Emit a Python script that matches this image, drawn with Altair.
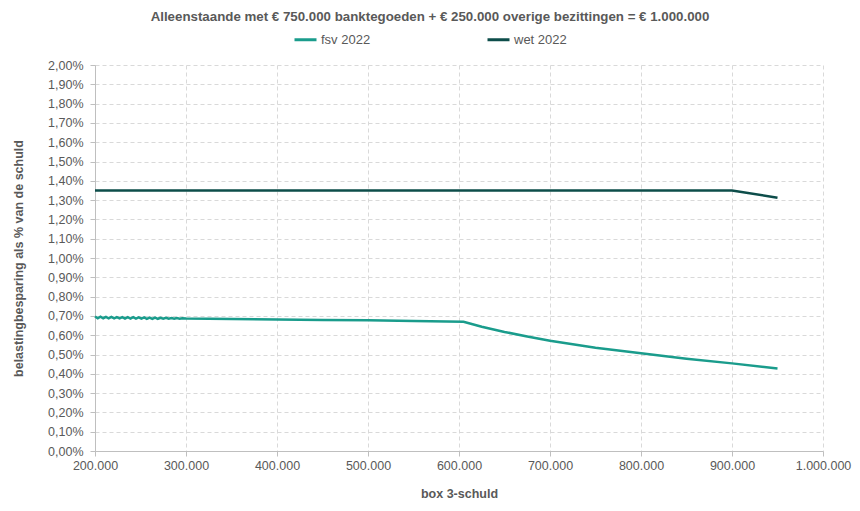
import altair as alt
import pandas as pd

# ---- data (values in percent) ----
fsv_x = [200000, 203000, 206000, 209000, 212000, 215000, 218000, 221000, 224000, 227000,
         230000, 233000, 236000, 239000, 242000, 245000, 248000, 251000, 254000, 257000,
         260000, 263000, 266000, 269000, 272000, 275000, 278000, 281000, 284000, 287000,
         290000, 293000, 296000, 300000, 350000, 400000, 450000, 500000, 550000, 605000,
         625000, 650000, 675000, 700000, 750000, 800000, 850000, 900000, 950000]
fsv_y = [0.697, 0.688, 0.696, 0.688, 0.695, 0.687, 0.695, 0.687, 0.694, 0.687,
         0.694, 0.686, 0.693, 0.686, 0.693, 0.686, 0.692, 0.686, 0.692, 0.685,
         0.691, 0.685, 0.691, 0.685, 0.690, 0.685, 0.690, 0.685, 0.689, 0.685,
         0.689, 0.685, 0.688, 0.686, 0.684, 0.681, 0.679, 0.677, 0.674, 0.670,
         0.644, 0.617, 0.593, 0.571, 0.535, 0.506, 0.478, 0.454, 0.428]

wet_x = [200000, 300000, 400000, 500000, 600000, 700000, 800000, 900000, 950000]
wet_y = [1.350, 1.350, 1.350, 1.350, 1.350, 1.350, 1.350, 1.350, 1.312]

series_names = ["fsv 2022", "wet 2022"]
series_colors = ["#1a9c8c", "#0d4d4a"]

x_ticks = [200000, 300000, 400000, 500000, 600000, 700000, 800000, 900000, 1000000]
y_ticks = [0.0, 0.1, 0.2, 0.3, 0.4, 0.5, 0.6, 0.7, 0.8, 0.9, 1.0,
           1.1, 1.2, 1.3, 1.4, 1.5, 1.6, 1.7, 1.8, 1.9, 2.0]

title_text = "Alleenstaande met € 750.000 banktegoeden + € 250.000 overige bezittingen = € 1.000.000"
x_title = "box 3-schuld"
y_title = "belastingbesparing als % van de schuld"

rows = []
for xv, yv in zip(fsv_x, fsv_y):
    rows.append({"x": xv, "y": yv, "serie": series_names[0]})
for xv, yv in zip(wet_x, wet_y):
    rows.append({"x": xv, "y": yv, "serie": series_names[1]})
df = pd.DataFrame(rows)

FONT = "Liberation Sans"
GREY = "#595959"

chart = alt.Chart(df).mark_line(strokeWidth=2.5).encode(
    x=alt.X("x:Q",
            scale=alt.Scale(domain=[200000, 1000000], nice=False, zero=False),
            axis=alt.Axis(values=x_ticks, title=x_title, labelFlush=False,
                          labelExpr="replace(replace(format(datum.value, ','), ',', '.'), ',', '.')")),
    y=alt.Y("y:Q",
            scale=alt.Scale(domain=[0, 2], nice=False),
            axis=alt.Axis(values=y_ticks, title=y_title, labelFlush=False,
                          labelExpr="replace(format(datum.value, '.2f'), '.', ',') + '%'")),
    color=alt.Color("serie:N",
                    scale=alt.Scale(domain=series_names, range=series_colors),
                    legend=alt.Legend(orient="none", legendX=198, legendY=-38,
                                      direction="horizontal", title=None,
                                      symbolType="stroke", symbolSize=484,
                                      symbolStrokeWidth=3, labelOffset=3,
                                      labelFontSize=13, labelColor=GREY, labelFont=FONT,
                                      columnPadding=110)),
).properties(
    width=728,
    height=386,
    autosize=alt.AutoSizeParams(type="none"),
    padding={"left": 95, "top": 65, "right": 37, "bottom": 60},
    title=alt.TitleParams(title_text, anchor="middle", dx=-29, offset=4,
                          fontSize=13.3, fontWeight="bold", color=GREY, font=FONT),
).configure_axis(
    domainColor="#bfbfbf",
    tickColor="#bfbfbf",
    tickSize=5,
    gridColor="#d9d9d9",
    gridDash=[4, 3],
    labelFont=FONT,
    labelFontSize=12.5,
    labelColor=GREY,
    titleFont=FONT,
    titleFontSize=12.5,
    titleFontWeight="bold",
    titleColor=GREY,
).configure_axisY(
    labelPadding=7,
    titlePadding=22,
).configure_axisX(
    labelPadding=3,
    titlePadding=16,
).configure_view(strokeWidth=0)

chart.save("out.html", embed_options={"renderer": "svg", "actions": False})
